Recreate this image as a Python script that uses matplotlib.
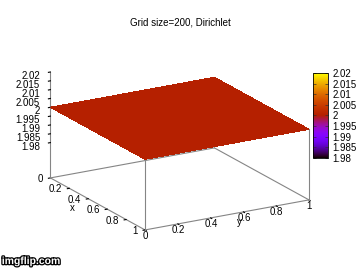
import numpy as np
import matplotlib
matplotlib.use("Agg")
import matplotlib.pyplot as plt
import matplotlib.patheffects as pe
from matplotlib import cm, colors
from matplotlib.transforms import ScaledTranslation

plt.rcParams['font.family'] = ['Liberation Sans', 'DejaVu Sans']

# data
title = 'Grid size=200, Dirichlet'
x_grid = [0.0, 0.25, 0.5, 0.75, 1.0]
y_grid = [0.0, 0.25, 0.5, 0.75, 1.0]
u_values = [[2.0, 2.0, 2.0, 2.0, 2.0]] * 5
xy_ticks = [0, 0.2, 0.4, 0.6, 0.8, 1]
xy_labels = ['0', '0.2', '0.4', '0.6', '0.8', '1']
z_ticks = [1.98, 1.985, 1.99, 1.995, 2, 2.005, 2.01, 2.015, 2.02]
z_labels = ['1.98', '1.985', '1.99', '1.995', '2', '2.005', '2.01', '2.015', '2.02']
zmin, zmax = 1.98, 2.02
zbase = zmin - 0.5 * (zmax - zmin)  # gnuplot ticslevel 0.5

X, Y = np.meshgrid(x_grid, y_grid, indexing='ij')
U = np.array(u_values)

fig = plt.figure(figsize=(3.6, 2.7), dpi=100)
fig.text(0.5, 0.915, title, ha='center', va='center', fontsize=7)

ax = fig.add_axes([0.114, -0.017, 0.75, 1.0], projection='3d')
ax.set_proj_type('ortho')
ax.view_init(elev=18.5, azim=-30)
ax.set_box_aspect((1, 1, 0.59), zoom=1.043)


def shifted(dx, dy):
    # data transform moved by (dx, dy) pixels, dy positive = down
    return ax.transData + ScaledTranslation(dx / 100, -dy / 100, fig.dpi_scale_trans)


norm = colors.Normalize(vmin=zmin, vmax=zmax)
cmap = plt.get_cmap('gnuplot')
surf = ax.plot_surface(X, Y, U, facecolors=cmap(norm(U)), shade=False,
                       linewidth=0, antialiased=False, rstride=1, cstride=1)
surf.set_clip_on(False)

# gnuplot-style box: back base edges and corner verticals
lc = '#858585'
ax.plot([0, 0], [0, 1], [zbase, zbase], color=lc, lw=0.8, clip_on=False)
ax.plot([0, 1], [1, 1], [zbase, zbase], color=lc, lw=0.8, clip_on=False)
ax.plot([1, 1], [0, 0], [zbase, 2.0], color=lc, lw=0.8, clip_on=False)
ax.plot([1, 1], [1, 1], [zbase, 2.0], color=lc, lw=0.8, clip_on=False)

ax.set_xlim(0, 1)
ax.set_ylim(0, 1)
ax.set_zlim(zbase, zmax)
ax.set_xticks(xy_ticks)
ax.tick_params(axis='x', labelbottom=False)
ax.set_yticks(xy_ticks)
ax.set_yticklabels(xy_labels)
ax.set_zticks(z_ticks)
ax.set_zticklabels(z_labels, ha='right')
ax.zaxis.set_ticks_position('lower')
ax.yaxis.set_tick_params(labelsize=7, pad=-7.5)
ax.zaxis.set_tick_params(labelsize=7, pad=-4)

# gnuplot puts x tick labels to the left of the axis
for t, lab in zip(xy_ticks, xy_labels):
    ax.text(t, 0, zbase, lab, fontsize=7, ha='right', va='center',
            transform=shifted(-7, 1))
ax.text(0.4, 0, zbase, 'x', fontsize=7, ha='center', va='center',
        transform=shifted(-16, 9))
ax.text(1, 0.55, zbase, 'y', fontsize=7, ha='center', va='center',
        transform=shifted(4, 8.5))

for axis in (ax.xaxis, ax.yaxis, ax.zaxis):
    axis.set_pane_color((1, 1, 1, 0))
    axis.pane.set_edgecolor((1, 1, 1, 0))
    axis.line.set_color(lc)
    axis.line.set_linewidth(0.8)
    axis._axinfo['grid']['linewidth'] = 0
    axis._axinfo['tick']['inward_factor'] = 0.15
    axis._axinfo['tick']['outward_factor'] = 0.0
    axis._axinfo['tick']['color'] = lc
ax.grid(False)

cax = fig.add_axes([0.87, 0.415, 0.042, 0.315])
cb = fig.colorbar(cm.ScalarMappable(norm=norm, cmap=cmap), cax=cax)
cb.set_ticks(z_ticks)
cb.set_ticklabels(z_labels)
cb.ax.tick_params(labelsize=7, length=2, width=0.5, pad=3, direction='in',
                  left=True, color='#333333')
cb.outline.set_linewidth(0.6)

fig.text(0.005, 0.022, 'imgflip.com', fontsize=7.5, fontweight='bold', color='white',
         path_effects=[pe.withStroke(linewidth=1.8, foreground='black')])

fig.savefig('out.png', dpi=100)
